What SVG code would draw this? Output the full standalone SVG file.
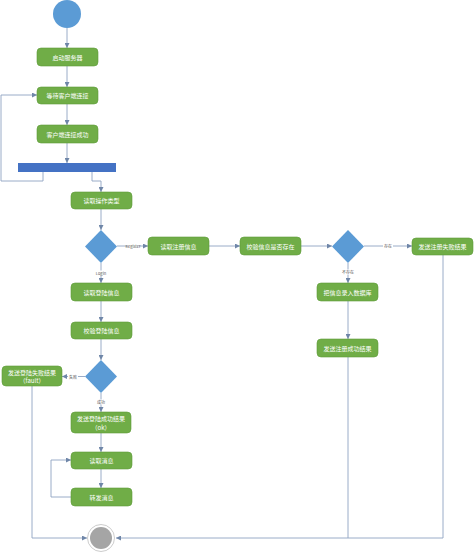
<svg xmlns="http://www.w3.org/2000/svg" width="474" height="552" viewBox="0 0 474 552">
<style>
.box{fill:#70AD47;stroke:#5E9A3A;stroke-width:0.6}
.t{font-family:"Noto Sans CJK SC","Liberation Sans",sans-serif;font-size:6px;fill:#ffffff;text-anchor:middle;dominant-baseline:central}
.dia{fill:#5B9BD5}
.ln{fill:none;stroke:#8EA3C2;stroke-width:0.9}
.lbl{font-family:"Noto Sans CJK SC","Liberation Sans",sans-serif;font-size:4px;fill:#555;text-anchor:middle;dominant-baseline:central}
.lb{fill:#fff}
</style>
<defs>
<marker id="a" viewBox="0 0 6 6" refX="6" refY="3" markerWidth="5" markerHeight="5" orient="auto" markerUnits="userSpaceOnUse">
<path d="M0,0 L6,3 L0,6 z" fill="#6F86A8"/>
</marker>
</defs>
<rect width="474" height="552" fill="#fff"/>
<g id="connectors">
<path class="ln" d="M67,28 V48" marker-end="url(#a)"/>
<path class="ln" d="M67,66 V87" marker-end="url(#a)"/>
<path class="ln" d="M67,104 V125" marker-end="url(#a)"/>
<path class="ln" d="M67,143 V163" marker-end="url(#a)"/>
<path class="ln" d="M43,172 V181 H1 V95 H37" marker-end="url(#a)"/>
<path class="ln" d="M92,172 V181 H101 V192" marker-end="url(#a)"/>
<path class="ln" d="M101,209 V230" marker-end="url(#a)"/>
<path class="ln" d="M117,246 H148" marker-end="url(#a)"/>
<path class="ln" d="M209,246 H240" marker-end="url(#a)"/>
<path class="ln" d="M301,246 H332" marker-end="url(#a)"/>
<path class="ln" d="M364,246 H412" marker-end="url(#a)"/>
<path class="ln" d="M348,263 V283" marker-end="url(#a)"/>
<path class="ln" d="M348,301 V339" marker-end="url(#a)"/>
<path class="ln" d="M348,357 V538"/>
<path class="ln" d="M443,255 V538 H116" marker-end="url(#a)"/>
<path class="ln" d="M101,263 V283" marker-end="url(#a)"/>
<path class="ln" d="M101,301 V322" marker-end="url(#a)"/>
<path class="ln" d="M101,339 V360" marker-end="url(#a)"/>
<path class="ln" d="M85,376.5 H62" marker-end="url(#a)"/>
<path class="ln" d="M101,393 V412" marker-end="url(#a)"/>
<path class="ln" d="M32,386 V538 H87" marker-end="url(#a)"/>
<path class="ln" d="M101,433 V452" marker-end="url(#a)"/>
<path class="ln" d="M101,469 V488" marker-end="url(#a)"/>
<path class="ln" d="M71,497 H51 V460 H71" marker-end="url(#a)"/>
<rect class="lb" x="127" y="243.5" width="12" height="5"/>
<text class="lbl" x="133" y="246">Register</text>
<rect class="lb" x="383" y="243.5" width="10" height="5"/>
<text class="lbl" x="388" y="246">存在</text>
<rect class="lb" x="341" y="269.5" width="14" height="5"/>
<text class="lbl" x="348" y="272">不存在</text>
<rect class="lb" x="95" y="270.5" width="12" height="5"/>
<text class="lbl" x="101" y="273">Login</text>
<rect class="lb" x="68" y="374" width="10" height="5"/>
<text class="lbl" x="73" y="376.5">失败</text>
<rect class="lb" x="96" y="399.5" width="10" height="5"/>
<text class="lbl" x="101" y="402">成功</text>
</g>
<g id="start"><circle cx="67" cy="14" r="14" fill="#5B9BD5"/></g>
<g id="n1"><rect class="box" x="37" y="48" width="61" height="18" rx="4"/><text class="t" x="67.5" y="57">启动服务器</text></g>
<g id="n2"><rect class="box" x="37" y="87" width="61" height="17" rx="4"/><text class="t" x="67.5" y="95.5">等待客户端连接</text></g>
<g id="n3"><rect class="box" x="37" y="125" width="61" height="18" rx="4"/><text class="t" x="67.5" y="134">客户端连接成功</text></g>
<g id="bar"><rect x="18" y="163" width="98" height="9" fill="#4472C4"/></g>
<g id="n4"><rect class="box" x="71" y="192" width="61" height="17" rx="4"/><text class="t" x="101.5" y="200.5">读取操作类型</text></g>
<g id="d1"><path class="dia" d="M101,230 L117,246.5 L101,263 L85,246.5 z"/></g>
<g id="n5"><rect class="box" x="148" y="237" width="61" height="18" rx="4"/><text class="t" x="178.5" y="246">读取注册信息</text></g>
<g id="n6"><rect class="box" x="240" y="237" width="61" height="18" rx="4"/><text class="t" x="270.5" y="246">校验信息是否存在</text></g>
<g id="d2"><path class="dia" d="M348,230 L364,246.5 L348,263 L332,246.5 z"/></g>
<g id="n7"><rect class="box" x="412" y="238" width="61" height="17" rx="4"/><text class="t" x="442.5" y="246.5">发送注册失败结果</text></g>
<g id="n8"><rect class="box" x="317" y="283" width="61" height="18" rx="4"/><text class="t" x="347.5" y="292">把信息录入数据库</text></g>
<g id="n9"><rect class="box" x="317" y="339" width="61" height="18" rx="4"/><text class="t" x="347.5" y="348">发送注册成功结果</text></g>
<g id="n10"><rect class="box" x="71" y="283" width="61" height="18" rx="4"/><text class="t" x="101.5" y="292">读取登陆信息</text></g>
<g id="n11"><rect class="box" x="71" y="322" width="61" height="17" rx="4"/><text class="t" x="101.5" y="330.5">校验登陆信息</text></g>
<g id="d3"><path class="dia" d="M101,360 L117,376.5 L101,393 L85,376.5 z"/></g>
<g id="n12"><rect class="box" x="2" y="366" width="60" height="20" rx="4"/><text class="t" x="32" y="372">发送登陆失败结果</text><text class="t" x="32" y="380.5">（fault）</text></g>
<g id="n13"><rect class="box" x="71" y="412" width="60" height="21" rx="4"/><text class="t" x="101" y="418.5">发送登陆成功结果</text><text class="t" x="101" y="427">（ok）</text></g>
<g id="n14"><rect class="box" x="71" y="452" width="61" height="17" rx="4"/><text class="t" x="101.5" y="460.5">读取消息</text></g>
<g id="n15"><rect class="box" x="71" y="488" width="61" height="18" rx="4"/><text class="t" x="101.5" y="497">转发消息</text></g>
<g id="end"><circle cx="101" cy="538" r="13.5" fill="#fff" stroke="#BFBFBF" stroke-width="0.8"/><circle cx="101" cy="538" r="11" fill="#A5A5A5"/></g>
</svg>
